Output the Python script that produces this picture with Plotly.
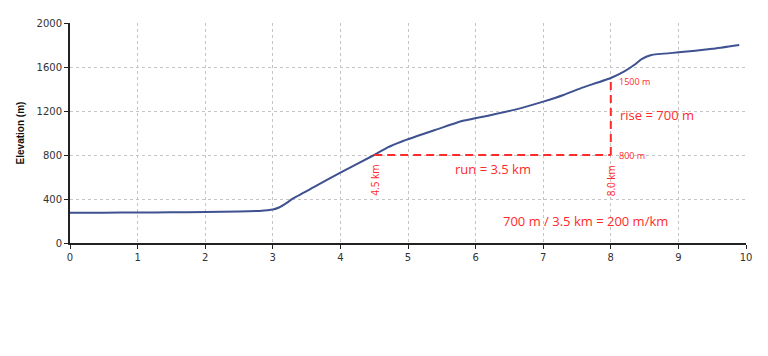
import plotly.graph_objects as go

# Elevation profile (km, m)
distance_km = [0, 0.5, 1, 1.5, 2, 2.5, 2.8, 3.0, 3.1, 3.2, 3.3, 3.6, 4.0, 4.5, 4.7, 4.9,
               5.4, 5.8, 6.2, 6.6, 7.0, 7.3, 7.55, 8.0, 8.2, 8.35, 8.45, 8.6, 9.0, 9.5, 9.9]
elevation_m = [275, 276, 277, 279, 281, 286, 292, 304, 325, 362, 405, 505, 640, 800, 870, 921,
               1027, 1109, 1160, 1215, 1285, 1345, 1406, 1500, 1560, 1620, 1670, 1709, 1733, 1765, 1800]

# Rise / run construction
run_x = [4.5, 8.0]
run_y = [800, 800]
rise_x = [8.0, 8.0]
rise_y = [800, 1500]

x_ticks = [0, 1, 2, 3, 4, 5, 6, 7, 8, 9, 10]
y_ticks = [0, 400, 800, 1200, 1600, 2000]

RED = "#FF2A2A"
TXT = "Open Sans, Liberation Sans, sans-serif"

fig = go.Figure()
fig.add_trace(go.Scatter(x=distance_km, y=elevation_m, mode="lines",
                         line=dict(color="#3E5190", width=2, shape="spline", smoothing=0.4),
                         hoverinfo="skip"))
fig.add_trace(go.Scatter(x=run_x, y=run_y, mode="lines",
                         line=dict(color=RED, width=2, dash="8px,5px"), hoverinfo="skip"))
fig.add_trace(go.Scatter(x=rise_x, y=rise_y, mode="lines",
                         line=dict(color=RED, width=2, dash="8px,5px"), hoverinfo="skip"))

ann = []
def add(x, y, text, size, xanchor="center", yanchor="middle", angle=0, xshift=0, yshift=0):
    ann.append(dict(x=x, y=y, xref="x", yref="y", text=text, showarrow=False,
                    font=dict(color=RED, size=size, family=TXT),
                    xanchor=xanchor, yanchor=yanchor, textangle=angle,
                    xshift=xshift, yshift=yshift))

add(8.0, 1500, "1500 m", 9, xanchor="left", xshift=6, yshift=-3)
add(8.0, 800, "800 m", 9, xanchor="left", xshift=6)
add(8.0, 1160, "rise = 700 m", 13, xanchor="left", xshift=7)
add(6.25, 800, "run = 3.5 km", 13, yanchor="top", yshift=-3)
add(4.5, 800, "4.5 km", 10, angle=-90, yanchor="top", yshift=-8)
add(8.0, 800, "8.0 km", 10, angle=-90, yanchor="top", yshift=-8)
add(7.62, 200, "700 m / 3.5 km = 200 m/km", 13)

fig.update_layout(
    width=768, height=356,
    margin=dict(l=70, r=22, t=23, b=113),
    paper_bgcolor="white", plot_bgcolor="white",
    showlegend=False,
    annotations=ann,
    font=dict(family="DejaVu Sans, sans-serif", size=10, color="#333333"),
)
fig.update_xaxes(range=[0, 10], tickvals=x_ticks, showgrid=True,
                 gridcolor="#C4C4C4", griddash="dot", gridwidth=1,
                 showline=True, linecolor="#222222", linewidth=2,
                 ticks="outside", ticklen=4, tickcolor="#222222",
                 tickfont=dict(size=10, color="#333333"), zeroline=False)
fig.update_yaxes(range=[0, 2000], tickvals=y_ticks, showgrid=True,
                 gridcolor="#C4C4C4", griddash="dot", gridwidth=1,
                 showline=True, linecolor="#222222", linewidth=2,
                 ticks="outside", ticklen=4, tickcolor="#222222",
                 tickfont=dict(size=10, color="#333333"), zeroline=False,
                 title=dict(text="<b>Elevation (m)</b>", standoff=10,
                            font=dict(size=10, color="#111111", family="Liberation Sans, Arial, sans-serif")))

fig.write_html("out.html")
